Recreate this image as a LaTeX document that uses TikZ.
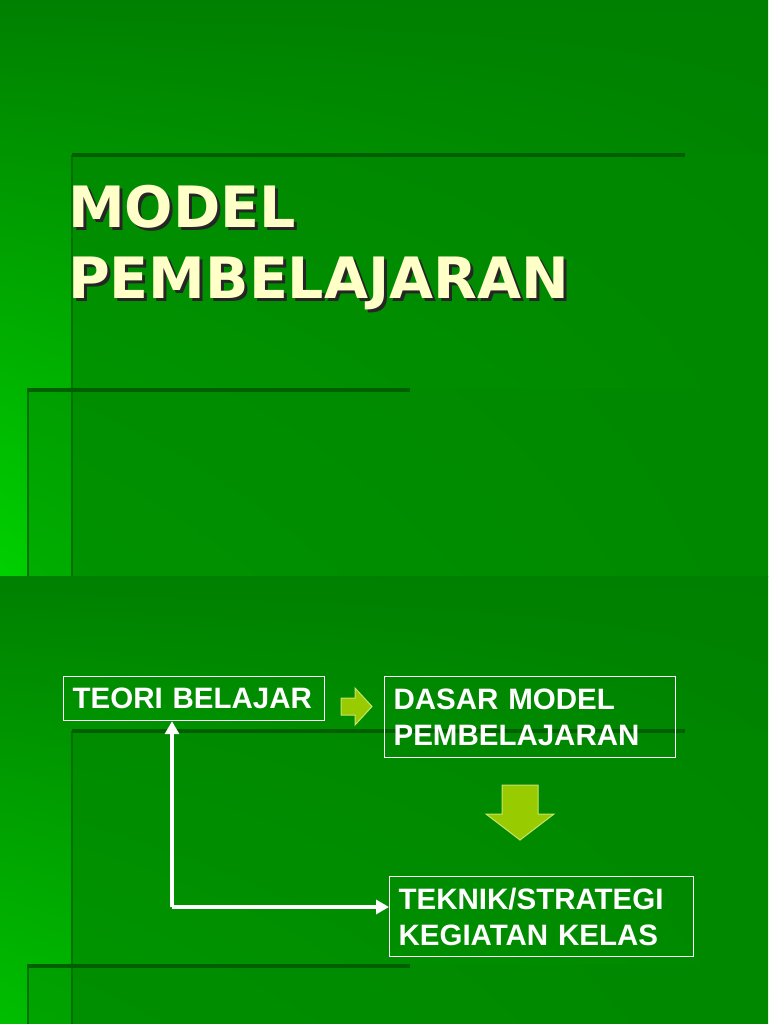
\documentclass[tikz,border=0pt]{standalone}
\usepackage{fontspec}
\usepackage{tikz}
\usetikzlibrary{arrows.meta,positioning,shadings}

\newfontfamily\titlefont{DejaVu Sans}
\newfontfamily\boxfont{Liberation Sans}

\definecolor{bgtop}{RGB}{0,128,0}
\definecolor{bgright}{RGB}{0,144,0}
\definecolor{bgbottom}{RGB}{0,208,0}
\definecolor{slidegreen}{RGB}{0,136,0}
\definecolor{ruledark}{RGB}{0,95,0}
\definecolor{edgedark}{RGB}{0,112,0}
\definecolor{titleyellow}{RGB}{255,255,200}
\definecolor{arrowlime}{RGB}{153,204,0}
\definecolor{arrowrim}{RGB}{200,228,110}

\tikzset{
  titletext/.style={anchor=base west, inner sep=0pt, text=titleyellow,
    font=\titlefont\bfseries\fontsize{57}{70}\selectfont},
  titleshadow/.style={titletext, text=black!85},
  textbox/.style={draw=white, line width=1.2pt, text=white, anchor=north west,
    align=left, inner xsep=9pt, inner ysep=0pt,
    font=\boxfont\bfseries\fontsize{29.5}{36}\selectfont},
  link/.style={draw=white, line width=4pt, -{Triangle[length=13pt,width=14pt]}},
  blockarrow/.style={fill=arrowlime, draw=arrowrim, line width=1pt, line join=miter}
}

% one slide of the template, shifted down by #1
\newcommand{\slidebackdrop}[1]{%
  \begin{scope}[shift={(0,#1)}]
    \shade[upper left=bgtop, upper right=bgtop, lower left=bgbottom, lower right=bgright]
      (0,0) rectangle (768,576);
    \fill[slidegreen, opacity=0.7] (72,155) rectangle (768,576);
    \fill[slidegreen, opacity=0.45] (28,388) rectangle (768,576);
    \fill[edgedark] (71,155) rectangle (73,576);
    \fill[edgedark] (27,388) rectangle (29,576);
    \fill[ruledark] (72,153) rectangle (685,157);
    \fill[ruledark] (28,388) rectangle (410,392);
  \end{scope}}

\begin{document}
\begin{tikzpicture}[x=1pt, y=-1pt]
  \useasboundingbox (0,0) rectangle (768,1024);
  \clip (0,0) rectangle (768,1024);
  % backgrounds of the two slides
  \slidebackdrop{0}
  \slidebackdrop{576}

  % title with its shadow
  \node[titleshadow] (title1s) at (71,231) {MODEL};
  \node[titleshadow] (title2s) at ([yshift=-70pt]title1s.base west) {PEMBELAJARAN};
  \node[titletext] (title1) at (68,228) {MODEL};
  \node[titletext] (title2) at ([yshift=-70pt]title1.base west) {PEMBELAJARAN};

  % Define boxes
  \node[textbox, text width=243pt, minimum height=44pt] (teori) at (63,676) {TEORI BELAJAR};
  \node[textbox, text width=273pt, minimum height=81pt] (dasar) at (384,676) {DASAR MODEL\\PEMBELAJARAN};
  \node[textbox, text width=286pt, minimum height=80pt] (teknik) at (389,876) {TEKNIK/STRATEGI\\KEGIATAN KELAS};

  % block arrows between the boxes
  \filldraw[blockarrow] (341,698) -- (355,698) -- (355,688) -- (372,706.5) -- (355,725)
    -- (355,715) -- (341,715) -- cycle;
  \filldraw[blockarrow] (502,785) -- (538,785) -- (538,814) -- (554,814) -- (520,840)
    -- (486,814) -- (502,814) -- cycle;

  % connect teori belajar with teknik/strategi
  \coordinate (bend) at (172,907);
  \draw[link] (bend) -- (bend |- teori.south);
  \draw[link] (bend) -- (bend -| teknik.west);
\end{tikzpicture}
\end{document}
